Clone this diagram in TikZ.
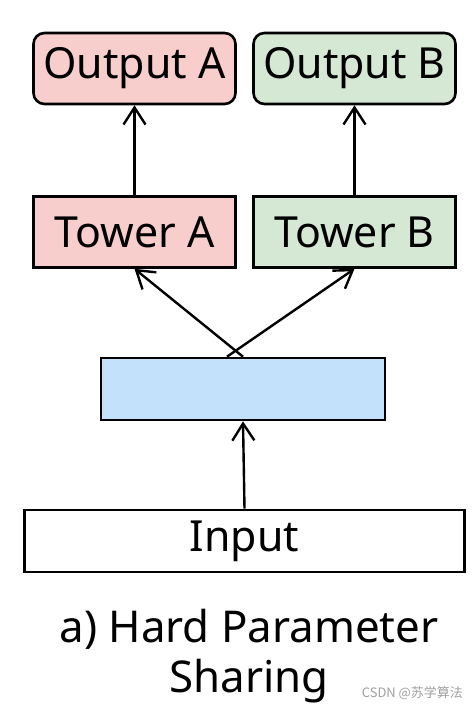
\documentclass[tikz,border=0pt]{standalone}
\usepackage{fontspec}
\setmainfont{Noto Sans}
\newfontfamily\cjk{Noto Sans CJK SC}
\usetikzlibrary{arrows.meta}
\definecolor{pinkc}{HTML}{F8CECC}
\definecolor{greenc}{HTML}{D5E8D4}
\definecolor{bluec}{HTML}{C4E1FC}
\definecolor{wmgray}{HTML}{A0A0A0}
\begin{document}
\begin{tikzpicture}[x=1bp,y=-1bp,
  box/.style={draw=black, line width=2.6bp, inner sep=0pt, font=\fontsize{43}{50}\selectfont, text=black},
  arr/.style={draw=black, line width=2.4bp, -{Straight Barb[length=17bp,width=22bp,line width=2.4bp]}},
]
\useasboundingbox[fill=white] (0,0) rectangle (474,711);
\node[box, rounded corners=11bp, fill=pinkc, minimum width=202bp, minimum height=71bp] (outA) at (134.5,68.5) {Output A};
\node[box, rounded corners=11bp, fill=greenc, minimum width=202bp, minimum height=71bp] (outB) at (354.5,68.5) {Output B};
\node[box, fill=pinkc, minimum width=202bp, minimum height=71bp] (towA) at (134.5,232) {Tower A};
\node[box, fill=greenc, minimum width=202bp, minimum height=71bp] (towB) at (354.5,232) {Tower B};
\node[box, fill=bluec, minimum width=284bp, minimum height=62bp] (shared) at (243,389) {};
\node[box, fill=white, minimum width=440bp, minimum height=62bp] (input) at (244.5,541) {Input};
\draw[arr] (towA.north) -- (outA.south);
\draw[arr] (towB.north) -- (outB.south);
\draw[arr] (input.north) -- (shared.south);
\draw[arr] (shared.north) -- (towA.south);
\draw[arr] ([xshift=-16bp]shared.north) -- (towB.south);
\node[font=\fontsize{44}{50}\selectfont, align=center, inner sep=0pt, anchor=north] (caption) at (249,609) {a) Hard Parameter\\Sharing};
\node[font=\cjk\fontsize{13}{15}\selectfont, text=wmgray, inner sep=0pt, anchor=east] (wm) at (463,693) {CSDN @苏学算法};
\end{tikzpicture}
\end{document}
